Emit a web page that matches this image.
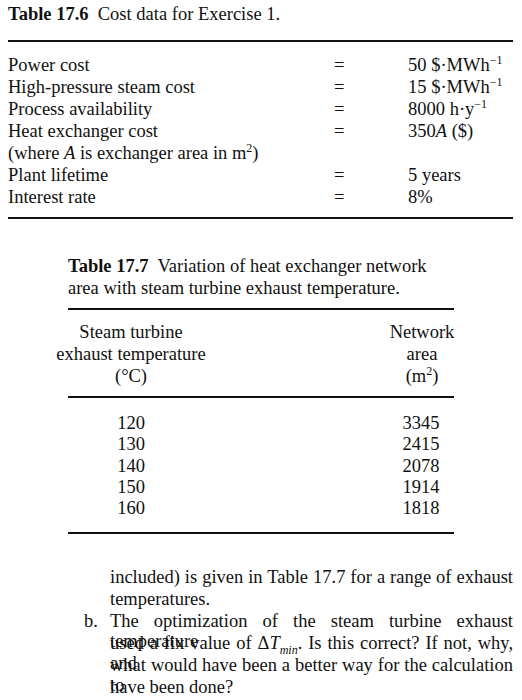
<!DOCTYPE html>
<html><head><meta charset="utf-8">
<script src="https://cdn.jsdelivr.net/npm/chart.js@4"></script>
<style>
body{margin:0;width:522px;height:700px;background:#fff;font-family:"Liberation Serif","Times New Roman",serif;font-size:18.5px;color:#111;position:relative;overflow:hidden}
.t{position:absolute;white-space:nowrap;line-height:20px}
.r{position:absolute;background:#111}
.c{text-align:center}
sup,sub{line-height:0;font-size:12px}
</style></head><body>
<script>
const costLabels = ['Power cost','High-pressure steam cost','Process availability','Heat exchanger cost','(where <i>A</i> is exchanger area in m<sup>2</sup>)','Plant lifetime','Interest rate'];
const costValues = ['50 $·MWh<sup>−1</sup>','15 $·MWh<sup>−1</sup>','8000 h·y<sup>−1</sup>','350<i>A</i> ($)','','5 years','8%'];
const temps = [120,130,140,150,160];
const areas = [3345,2415,2078,1914,1818];

function put(html,x,y,cls,w){
  const d=document.createElement('div');d.className='t '+(cls||'');
  d.innerHTML=html;d.style.left=x+'px';d.style.top=y+'px';
  if(w)d.style.width=w+'px';document.body.appendChild(d);return d;
}
function rule(x,y,w,h){const d=document.createElement('div');d.className='r';
  Object.assign(d.style,{left:x+'px',top:y+'px',width:w+'px',height:h+'px'});document.body.appendChild(d);}

put('<b>Table 17.6</b>&nbsp; Cost data for Exercise 1.',8,4);
rule(8,40,505,2);
costLabels.forEach((l,i)=>{
  const y=55+i*22;
  put(l,8,y);
  if(costValues[i]){put('=',334,y);put(costValues[i],408,y);}
});
rule(8,217,505,2);

put('<b>Table 17.7</b>&nbsp; Variation of heat exchanger network',68,256);
put('area with steam turbine exhaust temperature.',68,278);
rule(68,308,386,1.5);
put('Steam turbine',56,322,'c',150);
put('exhaust temperature',46,344,'c',170);
put('(°C)',56,366,'c',150);
put('Network',376,322,'c',92);
put('area',376,344,'c',92);
put('(m<sup>2</sup>)',376,366,'c',92);
rule(68,396,386,2);
temps.forEach((t,i)=>{
  const y=413+i*21.3;
  put(t,100,y,'c',62);put(areas[i],390,y,'c',62);
});
rule(68,532,386,1.5);

const para=[
 [110,567,'included) is given in Table 17.7 for a range of exhaust'],
 [110,589,'temperatures.',0],
 [110,611,'The optimization of the steam turbine exhaust temperature'],
 [110,633,'used a fix value of Δ<i>T<sub>min</sub></i>. Is this correct? If not, why, and'],
 [110,655,'what would have been a better way for the calculation to'],
 [110,677,'have been done?',0]
];
para.forEach(p=>{const d=put(p[2],p[0],p[1],'',403);
  if(p[3]!==0){d.style.textAlign='justify';d.style.textAlignLast='justify';d.style.whiteSpace='normal';}});
put('b.',84,611);
</script>
</body></html>
